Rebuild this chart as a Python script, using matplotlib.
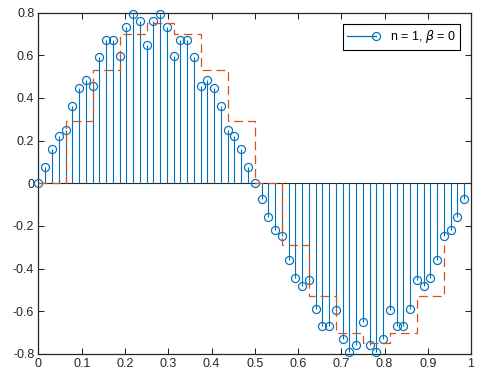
import numpy as np
import matplotlib
matplotlib.use("Agg")
import matplotlib.pyplot as plt
from matplotlib.lines import Line2D
from matplotlib.legend_handler import HandlerBase

# ---- data ----
n_samples = 64
half_values = [0.0, 0.074, 0.16, 0.222, 0.25, 0.361, 0.446, 0.483,
               0.455, 0.591, 0.671, 0.673, 0.594, 0.731, 0.792, 0.759,
               0.647, 0.759, 0.792, 0.731, 0.594, 0.673, 0.671, 0.591,
               0.455, 0.483, 0.446, 0.361, 0.25, 0.222, 0.16, 0.074]
second_half = [0.0, -0.075, -0.159, -0.22, -0.248, -0.359, -0.445, -0.481,
               -0.454, -0.59, -0.668, -0.67, -0.595, -0.73, -0.79, -0.759,
               -0.648, -0.759, -0.79, -0.73, -0.595, -0.67, -0.668, -0.59,
               -0.454, -0.481, -0.445, -0.359, -0.248, -0.22, -0.159, -0.075]
stem_t = np.arange(n_samples) / n_samples
stem_y = np.array(half_values + second_half)

stair_t = np.arange(16) / 16
stair_y = [0.0, 0.29, 0.53, 0.70, 0.75, 0.70, 0.53, 0.29,
           0.0, -0.29, -0.53, -0.70, -0.75, -0.70, -0.53, -0.29]

x_ticks = [0, 0.1, 0.2, 0.3, 0.4, 0.5, 0.6, 0.7, 0.8, 0.9, 1]
x_ticklabels = ["0", "0.1", "0.2", "0.3", "0.4", "0.5", "0.6", "0.7", "0.8", "0.9", "1"]
y_ticks = [-0.8, -0.6, -0.4, -0.2, 0, 0.2, 0.4, 0.6, 0.8]
y_ticklabels = ["-0.8", "-0.6", "-0.4", "-0.2", "0", "0.2", "0.4", "0.6", "0.8"]
legend_label = r"n = 1, $\beta$ = 0"

BLUE = "#0072BD"
ORANGE = "#D95319"
AXC = "#262626"

plt.rcParams['font.family'] = ['Liberation Sans', 'DejaVu Sans']
plt.rcParams['font.size'] = 9

fig = plt.figure(figsize=(4.89, 3.80), dpi=100)
ax = fig.add_axes([38.5/489, 26/380, (471-38.5)/489, (354-12.5)/380])

# stems
ax.axhline(0, color=AXC, lw=0.8, zorder=2)
ax.vlines(stem_t, 0, stem_y, color=BLUE, lw=0.8, zorder=3)
ax.plot(stem_t, stem_y, ls='none', marker='o', ms=5.8, mfc='none',
        mec=BLUE, mew=0.85, zorder=4, clip_on=False)

# stairs
ax.step(stair_t, stair_y, where='post', color=ORANGE, lw=0.9,
        ls=(0, (7, 4)), zorder=5)

ax.set_xlim(0, 1)
ax.set_ylim(-0.8, 0.8)
ax.set_xticks(x_ticks)
ax.set_xticklabels(x_ticklabels)
ax.set_yticks(y_ticks)
ax.set_yticklabels(y_ticklabels)
ax.tick_params(direction='in', length=4, width=0.75, colors=AXC,
               top=True, right=True, labelsize=9, pad=3)
for s in ax.spines.values():
    s.set_color(AXC)
    s.set_linewidth(0.9)


class StemHandler(HandlerBase):
    def create_artists(self, legend, orig_handle, xdescent, ydescent,
                       width, height, fontsize, trans):
        y = height / 2 - ydescent
        line = Line2D([-xdescent, width - xdescent], [y, y], color=BLUE, lw=0.9)
        mk = Line2D([width - xdescent], [y], marker='o', ms=5.8, mfc='none',
                    mec=BLUE, mew=0.85, ls='none')
        line.set_transform(trans)
        mk.set_transform(trans)
        return [line, mk]


handle = Line2D([], [])
leg = ax.legend([handle], [legend_label], handler_map={Line2D: StemHandler()},
                loc='upper right',
                bbox_to_anchor=((460-38.5)/432.5, 1-(24-12.5)/341.5),
                borderaxespad=0, fancybox=False, framealpha=1,
                edgecolor='black', handlelength=2.3, handletextpad=1.1,
                borderpad=0.35, fontsize=9)
leg.get_frame().set_linewidth(0.8)

fig.savefig("out.png", dpi=100)
